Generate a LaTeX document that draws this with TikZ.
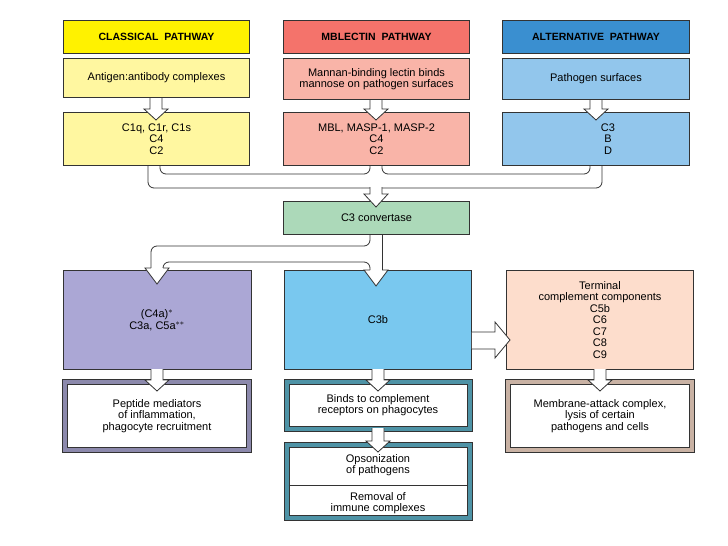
\documentclass[tikz,border=0pt]{standalone}
\usepackage{fontspec}
\setmainfont{Liberation Sans}
\definecolor{ctitle}{HTML}{FFF200}
\definecolor{cbox}{HTML}{FFF7A0}
\definecolor{mtitle}{HTML}{F4736B}
\definecolor{mbox}{HTML}{F9B4A8}
\definecolor{atitle}{HTML}{3A8FD0}
\definecolor{abox}{HTML}{92C6EC}
\definecolor{conv}{HTML}{ACD9B9}
\definecolor{purp}{HTML}{ABA7D5}
\definecolor{cthreeb}{HTML}{79C8EF}
\definecolor{term}{HTML}{FDDDCC}
\definecolor{purpband}{HTML}{8C89AC}
\definecolor{tealband}{HTML}{4E93A6}
\definecolor{brownband}{HTML}{C9B2A4}
\tikzset{
  box/.style={draw=black!80, thick, align=center, inner sep=1pt, font=\fontsize{11}{11.5}\selectfont},
  title/.style={box, font=\fontsize{10.5}{11}\selectfont\bfseries},
  band/.style={draw=black!80, thick, fill=#1},
  outbox/.style={box, fill=white},
  hollow/.style={draw=black!80, thick, fill=white, line join=miter},
  chan/.style={draw=black!80, thick, rounded corners=6pt}
}
\newcommand{\hollowdown}[3]{% x, top, tip
  \draw[hollow] ({#1-6},{#2}) -- ({#1-6},{#3-11}) -- ({#1-12},{#3-11}) -- (#1,#3)
    -- ({#1+12},{#3-11}) -- ({#1+6},{#3-11}) -- ({#1+6},{#2});}
\begin{document}
\begin{tikzpicture}[x=1pt,y=-1pt]
\useasboundingbox[fill=white] (0,0) rectangle (728,546);

% pathways
\node[title, fill=ctitle, minimum width=186, minimum height=33] (ct) at (156.5,37) {CLASSICAL\ \ PATHWAY};
\node[box, fill=cbox, minimum width=186, minimum height=39] (cd) at (156.5,78) {Antigen:antibody complexes};
\node[box, fill=cbox, minimum width=186, minimum height=53] (cc) at (156.5,139) {C1q, C1r, C1s\\C4\\C2};

\node[title, fill=mtitle, minimum width=186, minimum height=33] (mt) at (376.5,37) {MBLECTIN\ \ PATHWAY};
\node[box, fill=mbox, minimum width=186, minimum height=41] (md) at (376.5,79) {Mannan-binding lectin binds\\mannose on pathogen surfaces};
\node[box, fill=mbox, minimum width=186, minimum height=53] (mc) at (376.5,139) {MBL, MASP-1, MASP-2\\C4\\C2};

\node[title, fill=atitle, minimum width=187, minimum height=33] (at) at (596,37) {ALTERNATIVE\ \ PATHWAY};
\node[box, fill=abox, minimum width=187, minimum height=41] (ad) at (596,79) {Pathogen surfaces};
\node[box, fill=abox, minimum width=187, minimum height=53] (ac) at (596,139) {\hspace*{24pt}C3\\\hspace*{24pt}B\\\hspace*{24pt}D};

\node[box, fill=conv, minimum width=186, minimum height=33] (cv) at (376.5,218) {C3 convertase};

% lower row
\node[box, fill=purp, minimum width=188, minimum height=99] (an) at (157,320) {(C4a)$^{*}$\\C3a, C5a$^{**}$};
\node[box, fill=cthreeb, minimum width=187, minimum height=99] (cb) at (378,320) {C3b};
\node[box, fill=term, minimum width=187, minimum height=99] (tc) at (600,320) {Terminal\\complement components\\C5b\\C6\\C7\\C8\\C9};

% outcomes
\node[band=purpband, minimum width=189, minimum height=73] (pmb) at (157,416) {};
\node[outbox, minimum width=179, minimum height=63] (pm) at (pmb) {Peptide mediators\\of inflammation,\\phagocyte recruitment};
\node[band=tealband, minimum width=188, minimum height=52] (brb) at (378,405) {};
\node[outbox, minimum width=178, minimum height=42] (br) at (brb) {Binds to complement\\receptors on phagocytes};
\node[band=tealband, minimum width=188, minimum height=78] (opb) at (378,481) {};
\node[outbox, minimum width=178, minimum height=68] (op) at (opb) {};
\node[font=\fontsize{11}{11.5}\selectfont, align=center] (opt) at (378,465) {Opsonization\\of pathogens};
\node[font=\fontsize{11}{11.5}\selectfont, align=center] (rmt) at (378,503) {Removal of\\immune complexes};
\draw[black!80, thick] (op.west |- 0,485) -- (op.east |- 0,485);
\node[band=brownband, minimum width=189, minimum height=73] (mab) at (600,416) {};
\node[outbox, minimum width=179, minimum height=63] (ma) at (mab) {Membrane-attack complex,\\lysis of certain\\pathogens and cells};

% arrows within pathways
\hollowdown{156}{98}{120}
\hollowdown{376}{100}{120}
\hollowdown{596}{100}{120}

% channels into C3 convertase
\draw[chan] (cc.south -| 148,0) |- (370,188);
\draw[chan] (cc.south -| 160,0) |- (370,174) -- (mc.south -| 370,0);
\draw[chan] (mc.south -| 382,0) |- (590,174) -- (ac.south -| 590,0);
\draw[chan] (ac.south -| 602,0) |- (382,188);
\draw[hollow] (370,187) -- (370,194) -- (364,194) -- (376,207) -- (388,194) -- (382,194) -- (382,187);

% channels out of C3 convertase
\draw[chan] (cv.south -| 370,0) |- (151,246) -- (151,270);
\draw[chan] (cv.south -| 382,0) -- (382,272);
\draw[chan] (163,272) |- (370,262) -- (370,272);
\draw[hollow] (151,268) -- (145,268) -- (157,284) -- (169,268) -- (163,268);
\draw[hollow] (370,270) -- (364,270) -- (376,286) -- (388,270) -- (382,270);

% C3b to terminal
\draw[hollow] (cb.east |- 0,332) -- (495,332) -- (495,322) -- (510,340) -- (495,358) -- (495,349) -- (cb.east |- 0,349);

% arrows to outcomes
\hollowdown{157}{369}{391}
\hollowdown{378}{369}{391}
\hollowdown{600}{369}{391}
\hollowdown{378}{428}{452}
\end{tikzpicture}
\end{document}
